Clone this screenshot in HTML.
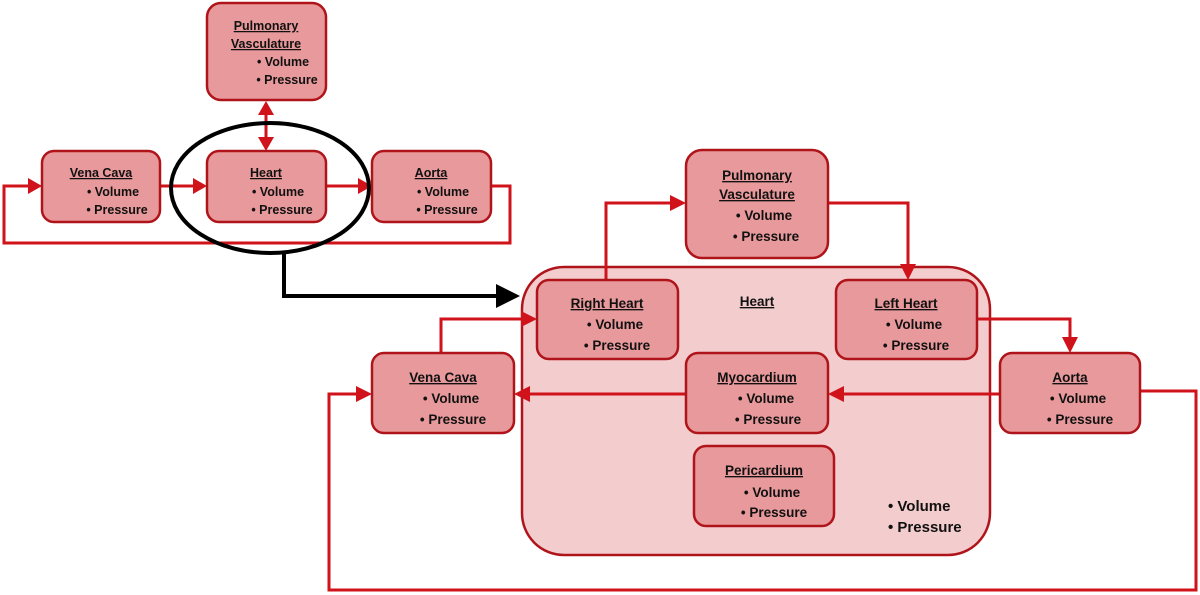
<!DOCTYPE html>
<html><head><meta charset="utf-8"><style>
body{margin:0;background:#fff}
svg{display:block}
text{font-family:"Liberation Sans",sans-serif;font-weight:bold;fill:#111}
.t{text-decoration:underline}
</style></head><body>
<svg width="1200" height="595" viewBox="0 0 1200 595">
<g stroke="#b0141b" stroke-width="2.5" fill="#e8999b">
<rect x="522" y="267" width="468" height="288" rx="42" fill="#f3cccd"/>
</g>
<g fill="none" stroke="#d0121b" stroke-width="3">
<polyline points="491,186 510,186 510,243 4,243 4,186 30,186"/>
<line x1="160" y1="186" x2="195" y2="186"/>
<line x1="326" y1="186" x2="360" y2="186"/>
<line x1="266" y1="110" x2="266" y2="140"/>
<polyline points="606,280 606,203 672,203"/>
<polyline points="828,203 908,203 908,266"/>
<polyline points="977,319 1070,319 1070,340"/>
<line x1="1000" y1="394" x2="840" y2="394"/>
<line x1="686" y1="394" x2="526" y2="394"/>
<polyline points="441,353 441,319 525,319"/>
<polyline points="1140,391 1196,391 1196,590 329,590 329,394 360,394"/>
</g>
<g fill="#d0121b">
<polygon points="28,178 42,186 28,194"/>
<polygon points="193,178 207,186 193,194"/>
<polygon points="358,178 372,186 358,194"/>
<polygon points="258,115 266,101 274,115"/>
<polygon points="258,137 266,151 274,137"/>
<polygon points="670,195 686,203 670,211"/>
<polygon points="900,264 908,280 916,264"/>
<polygon points="1062,337 1070,353 1078,337"/>
<polygon points="844,386 828,394 844,402"/>
<polygon points="530,386 514,394 530,402"/>
<polygon points="521,311 537,319 521,327"/>
<polygon points="356,386 372,394 356,402"/>
</g>
<g stroke="#b0141b" stroke-width="2.5" fill="#e8999b">
<rect x="207" y="3" width="119" height="97" rx="14"/>
<rect x="42" y="151" width="118" height="71" rx="12"/>
<rect x="207" y="151" width="119" height="71" rx="12"/>
<rect x="372" y="151" width="119" height="71" rx="12"/>
<rect x="686" y="150" width="142" height="108" rx="16"/>
<rect x="537" y="280" width="141" height="79" rx="12"/>
<rect x="836" y="280" width="141" height="79" rx="12"/>
<rect x="686" y="353" width="142" height="80" rx="12"/>
<rect x="694" y="446" width="140" height="80" rx="12"/>
<rect x="372" y="353" width="142" height="80" rx="12"/>
<rect x="1000" y="353" width="140" height="80" rx="12"/>
</g>
<ellipse cx="270" cy="188" rx="99" ry="65" fill="none" stroke="#000" stroke-width="4"/>
<polyline points="284,253 284,296 500,296" fill="none" stroke="#000" stroke-width="4"/>
<polygon points="496,284 520,296 496,308" fill="#000"/>
<g font-size="12.5" text-anchor="middle">
<text x="266" y="30" class="t">Pulmonary</text><text x="266" y="48" class="t">Vasculature</text>
<text x="283" y="66">• Volume</text><text x="287" y="84">• Pressure</text>
<text x="101" y="177" class="t">Vena Cava</text><text x="113" y="196">• Volume</text><text x="117" y="214">• Pressure</text>
<text x="266" y="177" class="t">Heart</text><text x="278" y="196">• Volume</text><text x="282" y="214">• Pressure</text>
<text x="431" y="177" class="t">Aorta</text><text x="443" y="196">• Volume</text><text x="447" y="214">• Pressure</text>
</g>
<g font-size="13.5" text-anchor="middle">
<text x="757" y="180" class="t">Pulmonary</text><text x="757" y="199" class="t">Vasculature</text>
<text x="764" y="220">• Volume</text><text x="766" y="241">• Pressure</text>
<text x="757" y="306" class="t">Heart</text>
<text x="607" y="308" class="t">Right Heart</text><text x="615" y="329">• Volume</text><text x="617" y="350">• Pressure</text>
<text x="906" y="308" class="t">Left Heart</text><text x="914" y="329">• Volume</text><text x="916" y="350">• Pressure</text>
<text x="757" y="382" class="t">Myocardium</text><text x="766" y="403">• Volume</text><text x="768" y="424">• Pressure</text>
<text x="443" y="382" class="t">Vena Cava</text><text x="451" y="403">• Volume</text><text x="453" y="424">• Pressure</text>
<text x="1070" y="382" class="t">Aorta</text><text x="1078" y="403">• Volume</text><text x="1080" y="424">• Pressure</text>
<text x="764" y="475" class="t">Pericardium</text><text x="772" y="497">• Volume</text><text x="774" y="517">• Pressure</text>
</g>
<g font-size="15" text-anchor="start">
<text x="888" y="511">• Volume</text><text x="888" y="532">• Pressure</text>
</g>
</svg>
</body></html>
